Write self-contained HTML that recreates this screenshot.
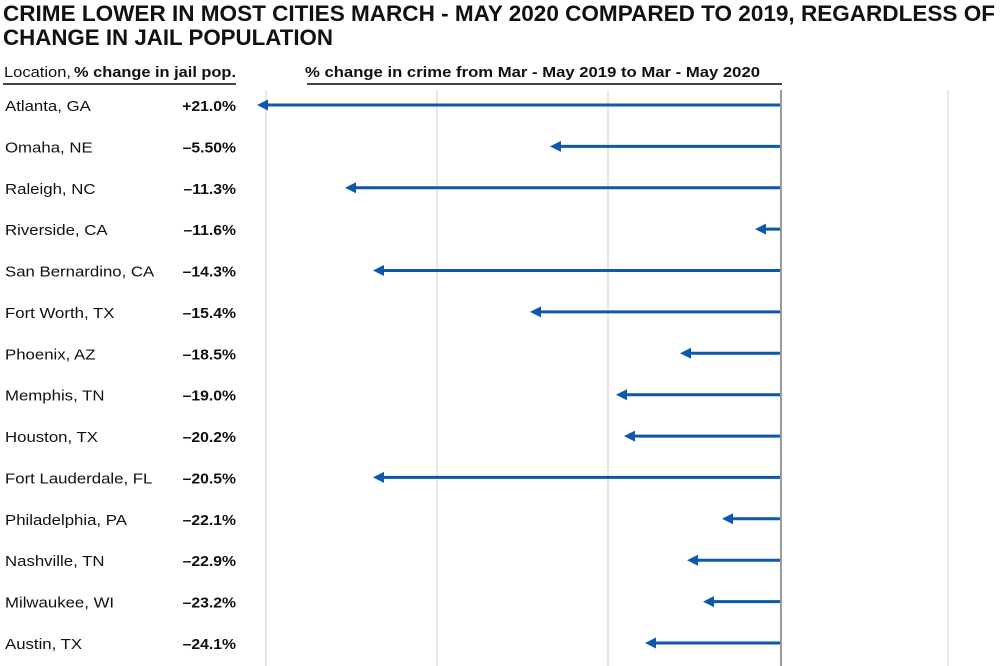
<!DOCTYPE html>
<html><head><meta charset="utf-8"><style>
html,body{margin:0;padding:0;background:#fff;}
svg{display:block;}
text{font-family:"Liberation Sans",Arial,sans-serif;fill:#111;}
</style></head><body>
<svg width="1000" height="666" viewBox="0 0 1000 666" xmlns="http://www.w3.org/2000/svg">
<rect width="1000" height="666" fill="#fff"/>
<text x="3" y="21" font-size="22" font-weight="bold" textLength="992" lengthAdjust="spacingAndGlyphs">CRIME LOWER IN MOST CITIES MARCH - MAY 2020 COMPARED TO 2019, REGARDLESS OF</text>
<text x="3" y="45" font-size="22" font-weight="bold" textLength="330" lengthAdjust="spacingAndGlyphs">CHANGE IN JAIL POPULATION</text>
<text x="4" y="77" font-size="15" textLength="67" lengthAdjust="spacingAndGlyphs">Location,</text>
<text x="74" y="77" font-size="15" font-weight="bold" textLength="162" lengthAdjust="spacingAndGlyphs">% change in jail pop.</text>
<line x1="3" y1="84" x2="236" y2="84" stroke="#444" stroke-width="2"/>
<text x="305" y="77" font-size="15" font-weight="bold" textLength="455" lengthAdjust="spacingAndGlyphs">% change in crime from Mar - May 2019 to Mar - May 2020</text>
<line x1="307" y1="84" x2="782" y2="84" stroke="#444" stroke-width="2"/>
<g stroke="#e8e8e8" stroke-width="2">
<line x1="266" y1="90" x2="266" y2="666"/>
<line x1="437" y1="90" x2="437" y2="666"/>
<line x1="608" y1="90" x2="608" y2="666"/>
<line x1="948" y1="90" x2="948" y2="666"/>
</g>
<line x1="781" y1="90" x2="781" y2="666" stroke="#9a9a9a" stroke-width="2"/>
<g id="rows" font-size="15"></g>
<g fill="#0d57ad" stroke="#0d57ad">
<!-- generated arrows below -->
<line x1="780" y1="105" x2="265" y2="105" stroke-width="3"/><polygon stroke="none" points="257,105 268,99.5 268,110.5"/>
<line x1="780" y1="146.4" x2="558" y2="146.4" stroke-width="3"/><polygon stroke="none" points="550,146.4 561,140.9 561,151.9"/>
<line x1="780" y1="187.8" x2="353" y2="187.8" stroke-width="3"/><polygon stroke="none" points="345,187.8 356,182.3 356,193.3"/>
<line x1="780" y1="229.1" x2="763" y2="229.1" stroke-width="3"/><polygon stroke="none" points="755,229.1 766,223.6 766,234.6"/>
<line x1="780" y1="270.5" x2="381" y2="270.5" stroke-width="3"/><polygon stroke="none" points="373,270.5 384,265 384,276"/>
<line x1="780" y1="311.9" x2="538" y2="311.9" stroke-width="3"/><polygon stroke="none" points="530,311.9 541,306.4 541,317.4"/>
<line x1="780" y1="353.3" x2="688" y2="353.3" stroke-width="3"/><polygon stroke="none" points="680,353.3 691,347.8 691,358.8"/>
<line x1="780" y1="394.7" x2="624" y2="394.7" stroke-width="3"/><polygon stroke="none" points="616,394.7 627,389.2 627,400.2"/>
<line x1="780" y1="436.1" x2="632" y2="436.1" stroke-width="3"/><polygon stroke="none" points="624,436.1 635,430.6 635,441.6"/>
<line x1="780" y1="477.4" x2="381" y2="477.4" stroke-width="3"/><polygon stroke="none" points="373,477.4 384,471.9 384,482.9"/>
<line x1="780" y1="518.8" x2="730" y2="518.8" stroke-width="3"/><polygon stroke="none" points="722,518.8 733,513.3 733,524.3"/>
<line x1="780" y1="560.2" x2="695" y2="560.2" stroke-width="3"/><polygon stroke="none" points="687,560.2 698,554.7 698,565.7"/>
<line x1="780" y1="601.6" x2="711" y2="601.6" stroke-width="3"/><polygon stroke="none" points="703,601.6 714,596.1 714,607.1"/>
<line x1="780" y1="643" x2="653" y2="643" stroke-width="3"/><polygon stroke="none" points="645,643 656,637.5 656,648.5"/>
</g>
<g font-size="15">
<g transform="translate(5,0) scale(1.12,1)">
<text x="0" y="111">Atlanta, GA</text>
<text x="0" y="152.4">Omaha, NE</text>
<text x="0" y="193.8">Raleigh, NC</text>
<text x="0" y="235.1">Riverside, CA</text>
<text x="0" y="276.5">San Bernardino, CA</text>
<text x="0" y="317.9">Fort Worth, TX</text>
<text x="0" y="359.3">Phoenix, AZ</text>
<text x="0" y="400.7">Memphis, TN</text>
<text x="0" y="442.1">Houston, TX</text>
<text x="0" y="483.4">Fort Lauderdale, FL</text>
<text x="0" y="524.8">Philadelphia, PA</text>
<text x="0" y="566.2">Nashville, TN</text>
<text x="0" y="607.6">Milwaukee, WI</text>
<text x="0" y="649">Austin, TX</text>
</g>
<g transform="translate(236,0) scale(1.05,1)" font-weight="bold" text-anchor="end">
<text x="0" y="111">+21.0%</text>
<text x="0" y="152.4">–5.50%</text>
<text x="0" y="193.8">–11.3%</text>
<text x="0" y="235.1">–11.6%</text>
<text x="0" y="276.5">–14.3%</text>
<text x="0" y="317.9">–15.4%</text>
<text x="0" y="359.3">–18.5%</text>
<text x="0" y="400.7">–19.0%</text>
<text x="0" y="442.1">–20.2%</text>
<text x="0" y="483.4">–20.5%</text>
<text x="0" y="524.8">–22.1%</text>
<text x="0" y="566.2">–22.9%</text>
<text x="0" y="607.6">–23.2%</text>
<text x="0" y="649">–24.1%</text>
</g>
</g>
</svg>
</body></html>
